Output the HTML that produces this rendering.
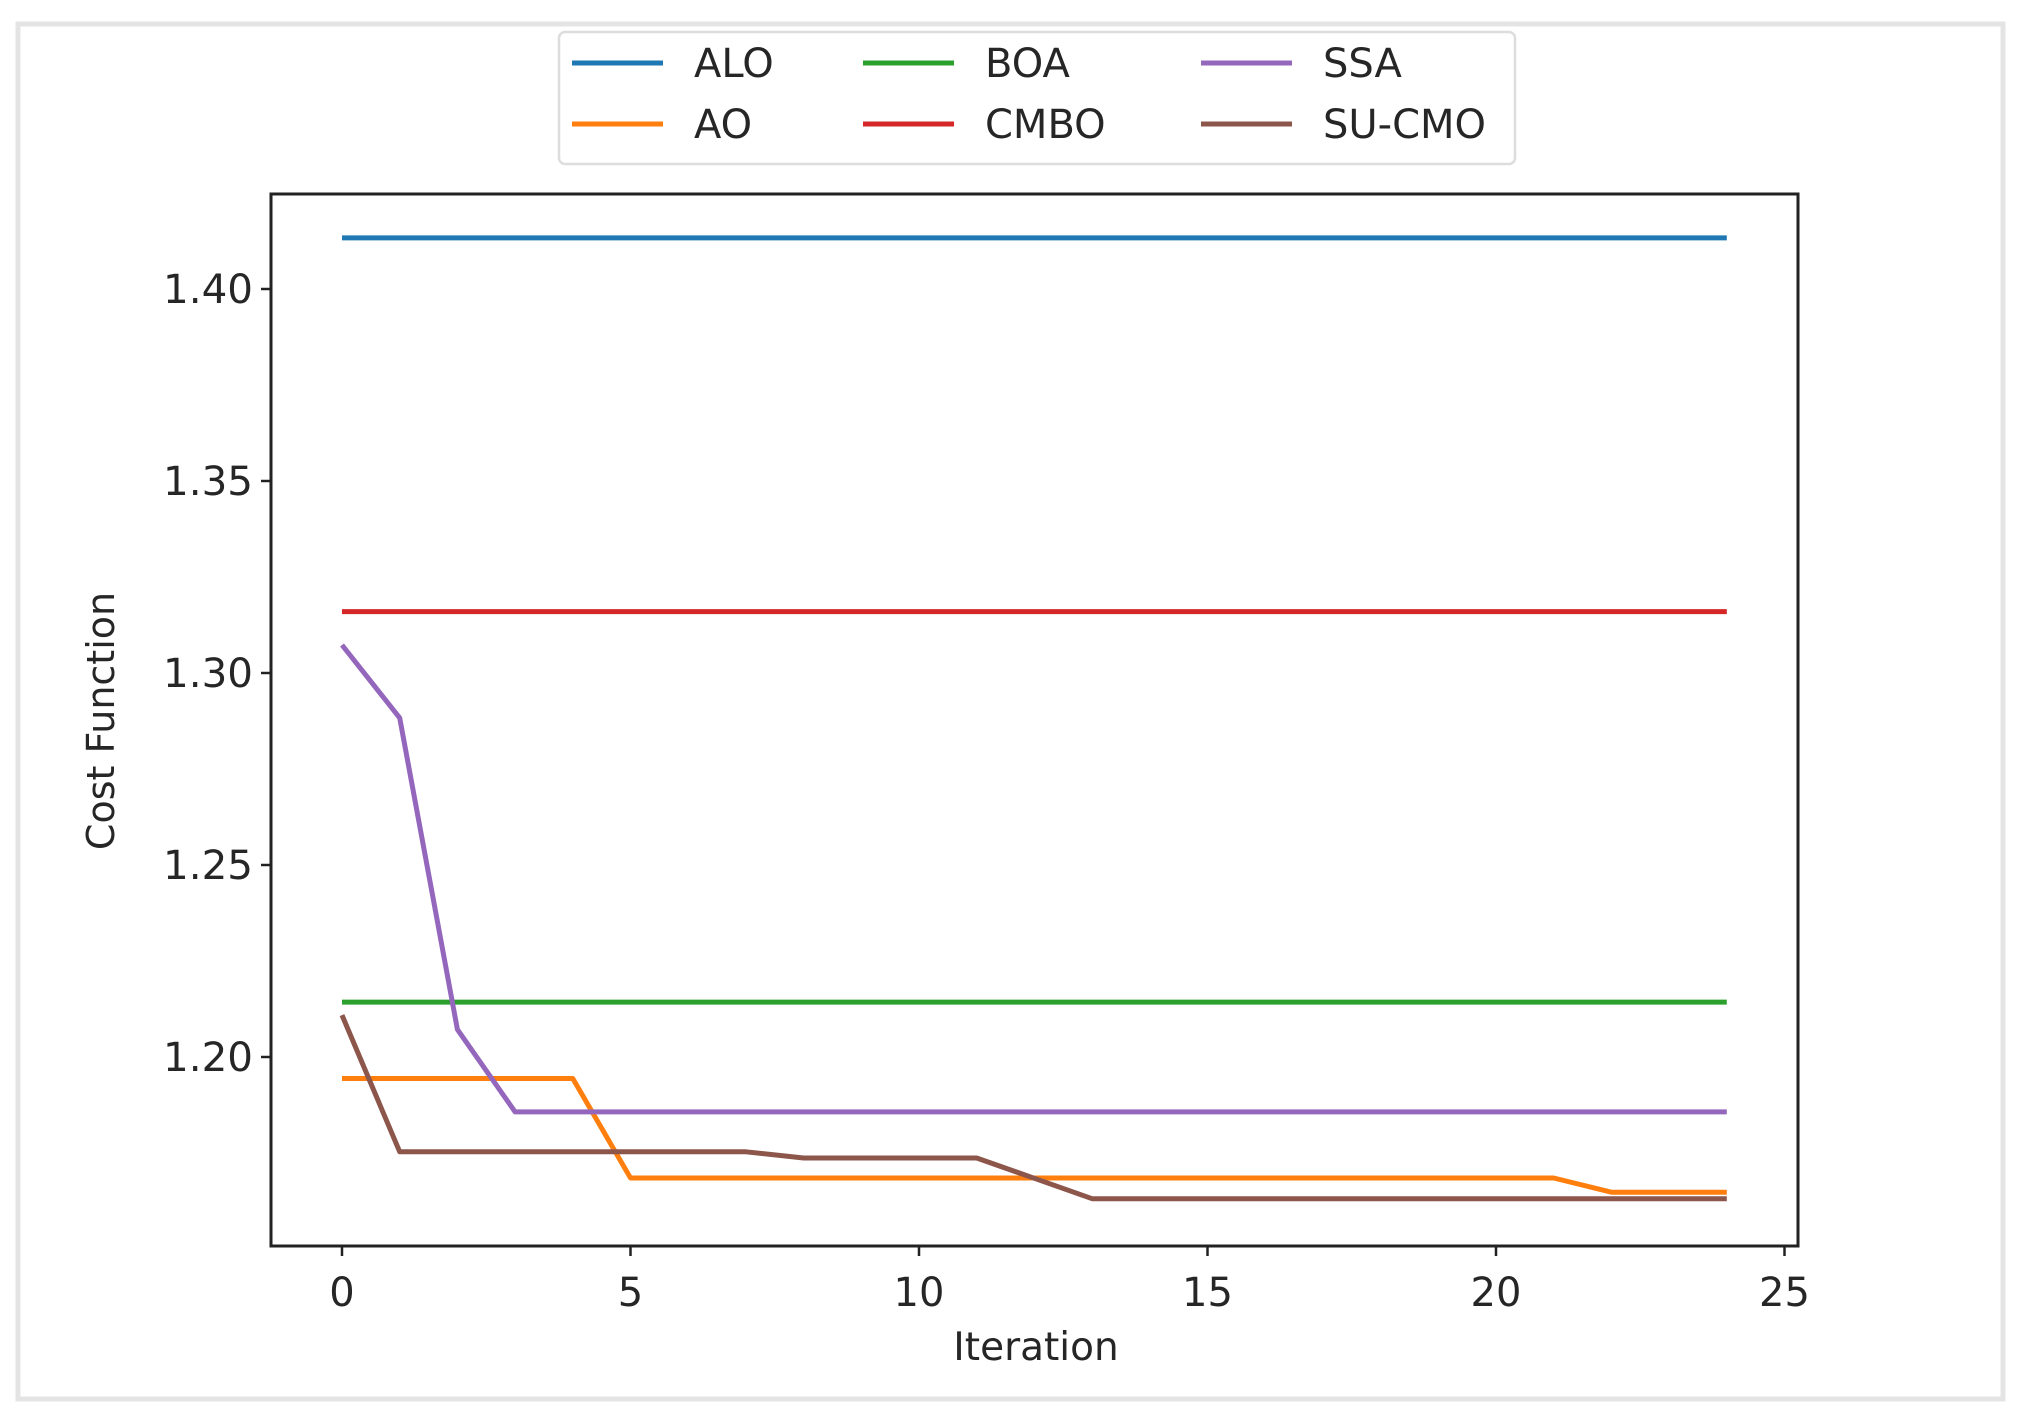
<!DOCTYPE html>
<html><head><meta charset="utf-8"><style>
body{margin:0;background:#fff}
svg text{font-family:"DejaVu Sans","Liberation Sans",sans-serif;fill:#262626}
</style></head><body>
<svg width="2019" height="1423" viewBox="0 0 2019 1423">
<rect x="18" y="24" width="1985" height="1375" fill="#fff" stroke="#e4e4e4" stroke-width="5"/>
<g id="plot"></g>
<g id="legend"></g>
</svg>
<script>
const iterations=[0,1,2,3,4,5,6,7,8,9,10,11,12,13,14,15,16,17,18,19,20,21,22,23,24];
const seriesNames=["ALO","AO","BOA","CMBO","SSA","SU-CMO"];
const aloValues=Array(25).fill(1.4133);
const aoValues=[1.1944,1.1944,1.1944,1.1944,1.1944,1.1685,1.1685,1.1685,1.1685,1.1685,1.1685,1.1685,1.1685,1.1685,1.1685,1.1685,1.1685,1.1685,1.1685,1.1685,1.1685,1.1685,1.1648,1.1648,1.1648];
const boaValues=Array(25).fill(1.2143);
const cmboValues=Array(25).fill(1.316);
const ssaValues=[1.3073,1.2883,1.2072,1.1857,1.1857,1.1857,1.1857,1.1857,1.1857,1.1857,1.1857,1.1857,1.1857,1.1857,1.1857,1.1857,1.1857,1.1857,1.1857,1.1857,1.1857,1.1857,1.1857,1.1857,1.1857];
const sucmoValues=[1.2109,1.1753,1.1753,1.1753,1.1753,1.1753,1.1753,1.1753,1.1737,1.1737,1.1737,1.1737,1.1684,1.1631,1.1631,1.1631,1.1631,1.1631,1.1631,1.1631,1.1631,1.1631,1.1631,1.1631,1.1631];
const xTicks=[0,5,10,15,20,25];
const yTicks=[1.20,1.25,1.30,1.35,1.40];
const yTickLabels=["1.20","1.25","1.30","1.35","1.40"];
const colors=["#1f77b4","#ff7f0e","#2ca02c","#d62728","#9467bd","#8c564b"];
const NS="http://www.w3.org/2000/svg";
const L=271,R=1798,T=194,B=1246;
const xs=v=>342+v*57.7;
const ys=v=>1057-(v-1.2)/0.05*192;
function mk(t,a,p){const e=document.createElementNS(NS,t);for(const k in a)e.setAttribute(k,a[k]);p.appendChild(e);return e;}
const plot=document.getElementById('plot');
const all=[aloValues,aoValues,boaValues,cmboValues,ssaValues,sucmoValues];
all.forEach((vals,i)=>{
  const pts=vals.map((v,j)=>xs(iterations[j]).toFixed(1)+','+ys(v).toFixed(1)).join(' ');
  const pl=mk('polyline',{points:pts,fill:'none',stroke:colors[i],'stroke-width':5,'stroke-linejoin':'round'},plot);
  
  
});
const frame=mk('rect',{x:L,y:T,width:R-L,height:B-T,fill:'none',stroke:'#222','stroke-width':3},plot);


xTicks.forEach(t=>{
  const x=xs(t);
  const tk=mk('line',{x1:x,y1:B,x2:x,y2:B+10,stroke:'#222','stroke-width':2.5},plot);
  
  
  const tx=mk('text',{x:x,y:1306,'text-anchor':'middle','font-size':40},plot);
  tx.textContent=t;
  
  
});
yTicks.forEach((t,i)=>{
  const y=ys(t);
  const tk=mk('line',{x1:L-10,y1:y,x2:L,y2:y,stroke:'#222','stroke-width':2.5},plot);
  
  
  const tx=mk('text',{x:L-18,y:y+14,'text-anchor':'end','font-size':40,'textLength':90,'lengthAdjust':'spacingAndGlyphs'},plot);
  tx.textContent=yTickLabels[i];
  
  
});
const xl=mk('text',{x:1036,y:1360,'text-anchor':'middle','font-size':39},plot);
xl.textContent='Iteration';


const yl=mk('text',{x:0,y:0,'text-anchor':'middle','font-size':38,transform:'translate(114,721) rotate(-90)'},plot);
yl.textContent='Cost Function';


const lg=document.getElementById('legend');
const box=mk('rect',{x:559,y:32,width:956,height:132,rx:6,fill:'#fff',stroke:'#ddd','stroke-width':2.5},lg);


const colX=[572,863,1201],rowY=[63,124];
seriesNames.forEach((n,i)=>{
  const c=Math.floor(i/2),r=i%2;
  const hx=colX[c],y=rowY[r];
  const h=mk('line',{x1:hx,y1:y,x2:hx+91,y2:y,stroke:colors[i],'stroke-width':5},lg);
  
  
  const t=mk('text',{x:hx+122,y:y+14,'font-size':40},lg);
  t.textContent=n;
  
  
});
</script>
</body></html>
